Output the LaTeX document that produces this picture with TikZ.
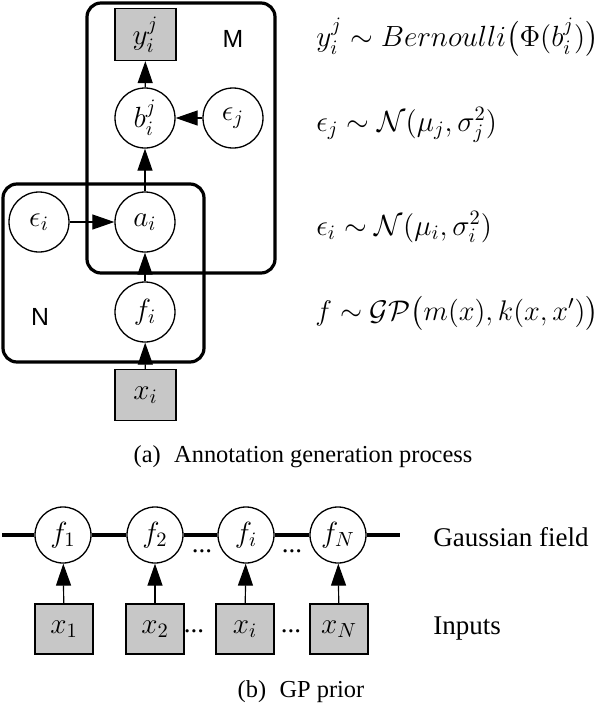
\documentclass[tikz,border=0pt]{standalone}
\usepackage{fix-cm}
\usepackage{amsmath}
\usepackage{amssymb}
\usepackage[no-math]{fontspec}
\setmainfont{Liberation Serif}
\newfontfamily\platefont{Liberation Sans}
\usetikzlibrary{arrows.meta}

\begin{document}
\begin{tikzpicture}[x=0.5pt,y=-0.5pt,
  every node/.style={font=\fontsize{14.6}{17}\selectfont},
  latent/.style={circle,draw,line width=0.65pt,fill=white,minimum size=30pt,inner sep=0pt},
  obs/.style={rectangle,draw,line width=0.6pt,fill=black!22,minimum width=30.5pt,minimum height=26pt,inner sep=0pt},
  plate/.style={draw,line width=1.6pt,rounded corners=7pt},
  platelabel/.style={font=\platefont\fontsize{12.4}{14}\selectfont},
  eqn/.style={anchor=base west,inner sep=0pt},
  txt/.style={inner sep=0pt,font=\fontsize{13.5}{16}\selectfont},
  capt/.style={inner sep=0pt,anchor=base,font=\fontsize{12.2}{15}\selectfont},
  arr/.style={-{Triangle[length=11pt,width=7.5pt]},line width=0.6pt},
  gfield/.style={line width=2pt}]
\useasboundingbox (0,0) rectangle (597,703);

% (a) annotation model
\draw[plate] (87,3) rectangle (275,273);
\draw[plate] (3,184) rectangle (204,362);
\node[platelabel] (M) at (233,39) {M};
\node[platelabel] (N) at (40,317) {N};

\node[obs] (y) at (145.5,34.5) {$y_i^j$};
\node[latent] (b) at (145,118) {$b_i^j$};
\node[latent] (ej) at (233,118) {$\epsilon_j$};
\node[latent] (a) at (145,222) {$a_i$};
\node[latent] (ei) at (39,222) {$\epsilon_i$};
\node[latent] (f) at (145,312) {$f_i$};
\node[obs,minimum height=25.5pt] (x) at (145.5,395) {$x_i$};

\draw[arr] (b) -- (y);
\draw[arr] (a) -- (b);
\draw[arr] (ej) -- (b);
\draw[arr] (ei) -- (a);
\draw[arr] (f) -- (a);
\draw[arr] (x) -- (f);

\node[eqn] (eqy) at (316,46) {$y_i^j\sim Bernoulli\bigl(\Phi(b_i^j)\bigr)$};
\node[eqn] (eqej) at (316,131) {$\epsilon_j\sim\mathcal{N}(\mu_j,\sigma_j^2)$};
\node[eqn] (eqei) at (316,235) {$\epsilon_i\sim\mathcal{N}(\mu_i,\sigma_i^2)$};
\node[eqn,font=\fontsize{14.2}{17}\selectfont] (eqf) at (315,320) {$f\sim\mathcal{GP}\bigl(m(x),k(x,x')\bigr)$};

\node[capt] (capa) at (303,462) {(a)\hspace{0.55em}Annotation generation process};

% (b) GP prior
\coordinate (gl) at (2,535);
\coordinate (gr) at (400,535);
\foreach \n/\xx/\yy in {1/63/64,2/155/155,i/246/245,N/338/339}{
  \node[latent,minimum size=28pt] (f\n) at (\xx,535) {$f_\n$};
  \node[obs,minimum width=29pt,minimum height=25pt] (x\n) at (\yy,629) {$x_\n$};
  \draw[arr] (x\n) -- (f\n);
}
\draw[gfield] (gl) -- (f1) -- (f2) -- (fi) -- (fN) -- (gr);

\node[txt,anchor=base] (dfa) at (202,552) {...};
\node[txt,anchor=base] (dfb) at (292,552) {...};
\node[txt,anchor=base] (dxa) at (194,632) {...};
\node[txt,anchor=base] (dxb) at (291,632) {...};

\node[txt,anchor=base west] (gf) at (433,546) {Gaussian field};
\node[txt,anchor=base west] (inp) at (433,634) {Inputs};

\node[capt] (capb) at (301,697) {(b)\hspace{0.55em}GP prior};
\end{tikzpicture}
\end{document}
